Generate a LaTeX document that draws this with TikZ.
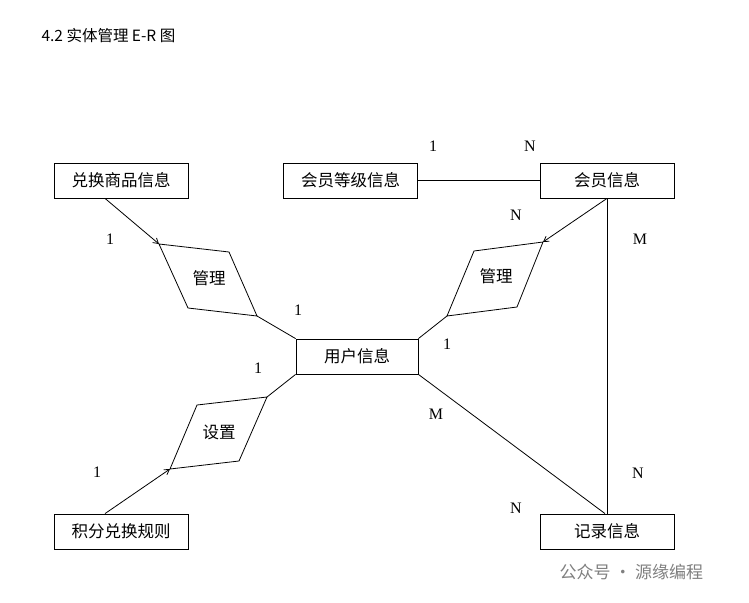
\documentclass[tikz,border=0pt]{standalone}
\usepackage{fontspec}
\setmainfont{Liberation Serif}
\newfontfamily\cjk{Noto Sans CJK SC}
\usetikzlibrary{arrows.meta}
\begin{document}
\begin{tikzpicture}[x=1pt,y=-1pt,
  ent/.style={draw,line width=0.8pt,minimum width=134pt,minimum height=35pt,inner sep=0pt,font=\cjk\fontsize{16.5}{16.5}\selectfont},
  lab/.style={font=\fontsize{16}{16}\selectfont},
  rel/.style={draw,line width=0.8pt},
  rtext/.style={font=\cjk\fontsize{16.5}{16.5}\selectfont},
  ln/.style={line width=0.8pt},
  arr/.style={line width=0.8pt,-{Straight Barb[length=5pt,width=6pt]}}]
\useasboundingbox[fill=white] (0,0) rectangle (749,602);
\node[ent] (dh) at (121,180.5) {兑换商品信息};
\node[ent] (dj) at (350.5,180.5) {会员等级信息};
\node[ent] (hy) at (607,180.5) {会员信息};
\node[ent,minimum width=122pt] (yh) at (357,356.5) {用户信息};
\node[ent] (jf) at (121,531.5) {积分兑换规则};
\node[ent] (jl) at (607,531.5) {记录信息};
% relation shapes
\draw[rel] (159,244) coordinate (r1a) -- (229,252) -- (257,316) coordinate (r1b) -- (188,308) -- cycle;
\node[rtext] (r1) at (209,278) {管理};
\draw[rel] (543,242) coordinate (r2a) -- (474,251) -- (447,316) coordinate (r2b) -- (517,307) -- cycle;
\node[rtext] (r2) at (496,276) {管理};
\draw[rel] (267,397) coordinate (r3a) -- (197,405) -- (170,469) coordinate (r3b) -- (239,461) -- cycle;
\node[rtext] (r3) at (219,432) {设置};
% connectors
\coordinate (c1) at ([xshift=-16pt]dh.south);
\coordinate (c3) at ([xshift=-16pt]jf.north);
\draw[arr] (c1) -- (r1a);
\draw[ln] (r1b) -- (yh.north west);
\draw[ln] (yh.north east) -- (r2b);
\draw[arr] (hy.south) -- (r2a);
\draw[ln] (yh.south west) -- (r3a);
\draw[arr] (c3) -- (r3b);
\draw[ln] (dj.east) -- (hy.west);
\draw[ln] (hy.south) -- (jl.north);
\draw[ln] (yh.south east) -- ([xshift=-2pt]jl.north);
% labels
\node[lab] at (433,146) {1};
\node[lab] at (530,146) {N};
\node[lab] at (516,215) {N};
\node[lab] at (640,239) {M};
\node[lab] at (110,239) {1};
\node[lab] at (298,310) {1};
\node[lab] at (447,344) {1};
\node[lab] at (258,368) {1};
\node[lab] at (436,414) {M};
\node[lab] at (97,472) {1};
\node[lab] at (516,508) {N};
\node[lab] at (638,473) {N};
\node[anchor=west,font=\cjk\fontsize{15.5}{15.5}\selectfont] at (38,36) {4.2 实体管理 E-R 图};
\node[anchor=west,text=gray,font=\cjk\fontsize{17}{17}\selectfont] at (556,572) {公众号 · 源缘编程};
\end{tikzpicture}
\end{document}
